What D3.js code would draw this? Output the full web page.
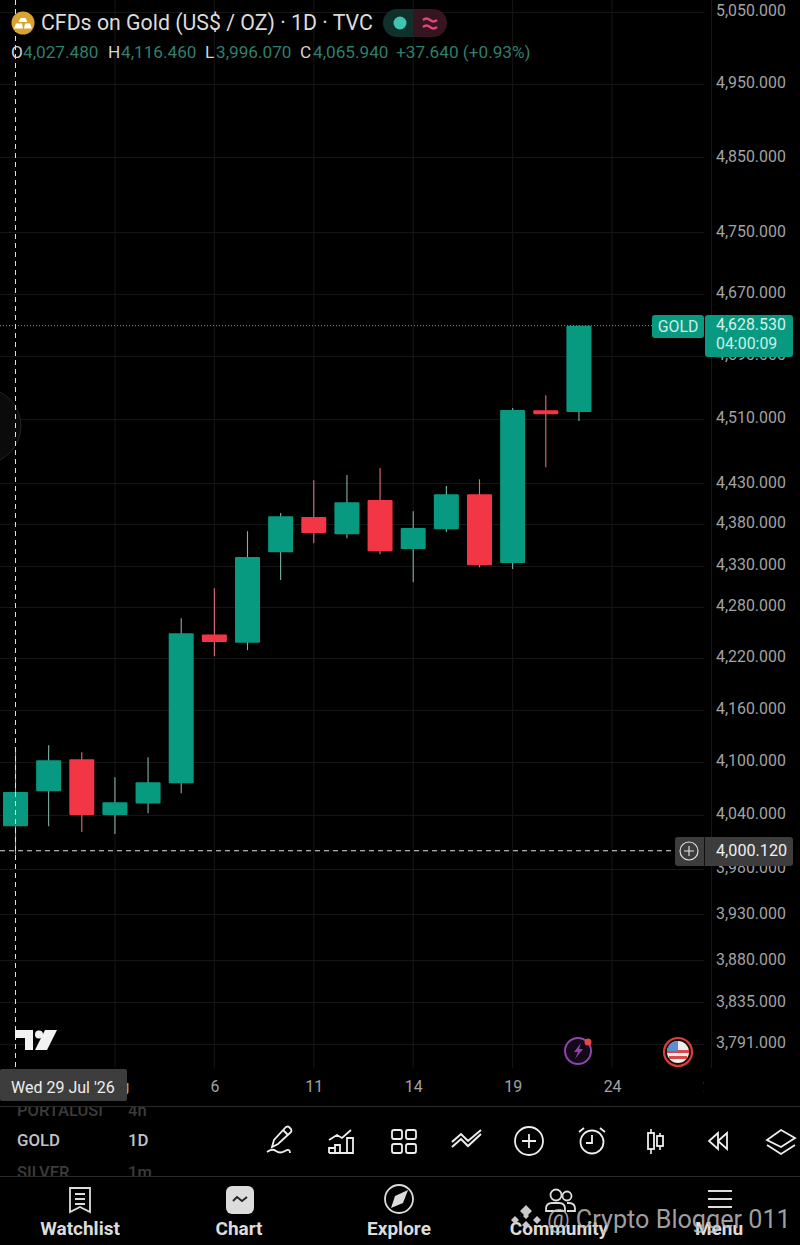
<!DOCTYPE html>
<html>
<head>
<meta charset="utf-8">
<script src="https://cdnjs.cloudflare.com/ajax/libs/d3/7.8.5/d3.min.js"></script>
<style>
html, body { margin: 0; padding: 0; background: #000; }
svg { display: block; font-family: Roboto, sans-serif; }
</style>
</head>
<body>
<svg id="chart" width="800" height="1245"></svg>
<script>
const dates = ["29 Jul","30 Jul","31 Jul","3 Aug","4 Aug","5 Aug","6 Aug","7 Aug","10 Aug","11 Aug","12 Aug","13 Aug","14 Aug","17 Aug","18 Aug","19 Aug","20 Aug","21 Aug","24 Aug","25 Aug","26 Aug","27 Aug"];
const opens  = [4027.48,4066.9,4103,4040,4053,4076,4248,4238,4346.2,4388.7,4368,4409.5,4350,4374,4416.8,4333,4521,4518.7];
const highs  = [4116.46,4119.2,4111,4082.7,4105.5,4267.2,4302.9,4371.6,4393.6,4434,4440.3,4448.9,4396,4426.7,4435,4523.7,4540,4628.53];
const lows   = [3996.07,4027.5,4021,4018.7,4042,4064.6,4222.4,4229.4,4312.6,4357,4363,4343.8,4310,4370.5,4328,4326,4450,4507.4];
const closes = [4065.94,4102.1,4040,4054.4,4077,4249.4,4238.9,4340.2,4389.9,4369.3,4407,4347.4,4375.3,4416.8,4330.5,4521.2,4516,4628.53];
const priceTicks = [5050,4950,4850,4750,4670,4590,4510,4430,4380,4330,4280,4220,4160,4100,4040,3980,3930,3880,3835,3791];
const dateTicks = ["3 Aug","6 Aug","11 Aug","14 Aug","19 Aug","24 Aug","27 Aug"];
const dateTickLabels = ["Aug","6","11","14","19","24","27"];
const lastPrice = 4628.53, crossPrice = 4000.12;

const green = "#089981", red = "#f23645", greenWick = "#7fb3a6", redWick = "#e2707c";
const tickCol = "#a3a3a3", gridCol = "#161616";
const W = 800, H = 1245, plotRight = 704, plotBottom = 1068;

const svg = d3.select("#chart");
svg.append("rect").attr("width", W).attr("height", H).attr("fill", "#000");

const x = d3.scalePoint().domain(dates).range([15.5, 711.5]);
const y = d3.scaleLog().domain([3791, 5050]).range([1044, 12]);

// grid
const grid = svg.append("g");
grid.selectAll(".h").data(priceTicks).join("line")
  .attr("x1", 0).attr("x2", plotRight)
  .attr("y1", d => Math.round(y(d)) + .5).attr("y2", d => Math.round(y(d)) + .5)
  .attr("stroke", gridCol);
grid.selectAll(".v").data(dateTicks).join("line")
  .attr("x1", d => x(d)).attr("x2", d => x(d))
  .attr("y1", 0).attr("y2", plotBottom)
  .attr("stroke", gridCol);

// price axis
const yAxis = d3.axisRight(y).tickValues(priceTicks).tickSize(0).tickPadding(0)
  .tickFormat(d3.format(",.3f"));
const gy = svg.append("g").attr("transform", "translate(716,-1.5)").call(yAxis);
gy.select(".domain").remove();
gy.selectAll("text").attr("fill", tickCol).attr("font-size", 15.9).attr("font-family", "Roboto");

// time axis
const xAxis = d3.axisBottom(x).tickValues(dateTicks).tickSize(0).tickPadding(0)
  .tickFormat((d, i) => dateTickLabels[i]);
const gx = svg.append("g").attr("transform", "translate(0,1081)").call(xAxis);
gx.select(".domain").remove();
gx.selectAll("text").attr("fill", tickCol).attr("font-size", 15.9).attr("font-family", "Roboto");
svg.append("rect").attr("x", 704).attr("y", 1070).attr("width", 96).attr("height", 35).attr("fill", "#000");

// left side handle
svg.append("circle").attr("cx", -17).attr("cy", 426).attr("r", 38).attr("fill", "#0b0b0b").attr("stroke", "#242424");

// candles
const candles = svg.append("g");
const idx = d3.range(opens.length);
const up = i => closes[i] >= opens[i];
candles.selectAll(".wick").data(idx).join("line")
  .attr("x1", i => x(dates[i])).attr("x2", i => x(dates[i]))
  .attr("y1", i => y(highs[i])).attr("y2", i => y(lows[i]))
  .attr("stroke", i => up(i) ? greenWick : redWick).attr("stroke-width", 1.1);
candles.selectAll(".body").data(idx).join("rect")
  .attr("x", i => x(dates[i]) - 12.5).attr("width", 25)
  .attr("y", i => y(Math.max(opens[i], closes[i])))
  .attr("height", i => Math.max(2, Math.abs(y(opens[i]) - y(closes[i]))))
  .attr("rx", 1)
  .attr("fill", i => up(i) ? green : red);

// last price dotted line and label
svg.append("line").attr("x1", 0).attr("x2", 652).attr("y1", y(lastPrice)).attr("y2", y(lastPrice))
  .attr("stroke", "#7d8f8a").attr("stroke-dasharray", "1 2");
svg.append("rect").attr("x", 652).attr("y", 315).attr("width", 52).attr("height", 23).attr("rx", 3).attr("fill", green);
svg.append("text").attr("x", 678).attr("y", 332).attr("text-anchor", "middle").attr("font-size", 15.9).attr("fill", "#c9efe7").text("GOLD");
svg.append("rect").attr("x", 705).attr("y", 315).attr("width", 88).attr("height", 42).attr("rx", 3).attr("fill", green);
svg.append("text").attr("x", 716).attr("y", 330).attr("font-size", 15.9).attr("fill", "#d5f3ed").text(d3.format(",.3f")(lastPrice));
svg.append("text").attr("x", 716).attr("y", 349).attr("font-size", 15.9).attr("fill", "#c9efe7").text("04:00:09");

// crosshair
const cx = x(dates[0]), cy = y(crossPrice);
svg.append("line").attr("x1", cx).attr("x2", cx).attr("y1", 0).attr("y2", 1070)
  .attr("stroke", "#e0e0e0").attr("stroke-dasharray", "5 4");
svg.append("line").attr("x1", 0).attr("x2", 675).attr("y1", cy).attr("y2", cy)
  .attr("stroke", "#e0e0e0").attr("stroke-dasharray", "5 4");
svg.append("rect").attr("x", 675).attr("y", 837).attr("width", 118).attr("height", 29).attr("rx", 3).attr("fill", "#3d3d3d");
svg.append("line").attr("x1", 704.5).attr("x2", 704.5).attr("y1", 837).attr("y2", 866).attr("stroke", "#111");
svg.append("circle").attr("cx", 689).attr("cy", 851).attr("r", 9).attr("fill", "none").attr("stroke", "#e6e6e6").attr("stroke-width", 1.1);
svg.append("path").attr("d", "M684 851h10M689 846v10").attr("stroke", "#e6e6e6").attr("stroke-width", 1.1);
svg.append("text").attr("x", 716).attr("y", 855.5).attr("font-size", 16.2).attr("fill", "#eee").text(d3.format(",.3f")(crossPrice));
svg.append("rect").attr("x", 0).attr("y", 1069).attr("width", 127).attr("height", 32).attr("rx", 2).attr("fill", "#3d3d3d");
svg.append("text").attr("x", 11).attr("y", 1093).attr("font-size", 16).attr("fill", "#eee").text("Wed 29 Jul '26");

// header
svg.append("circle").attr("cx", 23).attr("cy", 23).attr("r", 11.5).attr("fill", "#d9a32e");
svg.append("path").attr("d", "M18.500 22l2-4h5l2 4zM14 28.500l2-5h6l1 5zM24 28.500l1-5h5l2 5z").attr("fill", "#fff");
svg.append("text").attr("x", 41).attr("y", 30).attr("font-size", 21.3).attr("fill", "#dcdcdc").text("CFDs on Gold (US$ / OZ) · 1D · TVC");
svg.append("path").attr("d", "M397 9h16v28h-16a14 14 0 0 1 0-28z").attr("fill", "#10302c");
svg.append("path").attr("d", "M413 9h20a14 14 0 0 1 0 28h-20z").attr("fill", "#361420");
svg.append("circle").attr("cx", 400).attr("cy", 23).attr("r", 6.5).attr("fill", "#3fc4b0");
svg.append("path").attr("d", "M423 20q3.500 -3 7 0t7 0M423 27q3.500 -3 7 0t7 0").attr("fill", "none").attr("stroke", "#e0457b").attr("stroke-width", 2.4);
const ohlc = [["O",11,"4,027.480",23],["H",108,"4,116.460",121],["L",205,"3,996.070",216],["C",300,"4,065.940",313],["",0,"+37.640 (+0.93%)",396]];
ohlc.forEach(r => {
  if (r[0]) svg.append("text").attr("x", r[1]).attr("y", 58).attr("font-size", 17.2).attr("fill", "#d5d5d5").text(r[0]);
  svg.append("text").attr("x", r[3]).attr("y", 58).attr("font-size", 17.2).attr("fill", "#2f7f6f").text(r[2]);
});

// tradingview logo
svg.append("path").attr("d", "M15 1030h18v20h-8v-12h-10z M45 1030h12l-10 20h-12z").attr("fill", "#f2f2f2");
svg.append("circle").attr("cx", 39).attr("cy", 1034.500).attr("r", 4).attr("fill", "#f2f2f2");

// event icons
svg.append("circle").attr("cx", 578).attr("cy", 1051).attr("r", 13).attr("fill", "#120a18").attr("stroke", "#8d44ad").attr("stroke-width", 2);
svg.append("path").attr("d", "M581 1043l-7 9h4l-3 7 8-10h-4z").attr("fill", "#8d44ad");
svg.append("circle").attr("cx", 588).attr("cy", 1042).attr("r", 3.500).attr("fill", "#e84545");
svg.append("circle").attr("cx", 678).attr("cy", 1052).attr("r", 14).attr("fill", "#1a0808").attr("stroke", "#d83c3c").attr("stroke-width", 2.2);
svg.append("circle").attr("cx", 678).attr("cy", 1052).attr("r", 11).attr("fill", "#eee");
svg.append("path").attr("d", "M667 1050h22v3h-22zM669 1056h18v3h-18z").attr("fill", "#d84a4a");
svg.append("path").attr("d", "M678 1041a11 11 0 0 0 -11 10h11z").attr("fill", "#5b8ed0");

// watchlist rows, clipped by the two separators
const list = svg.append("g").attr("font-weight", 500);
list.append("text").attr("x", 17).attr("y", 1116).attr("font-size", 16.5).attr("fill", "#3c3c3c").text("PORTALUSI");
list.append("text").attr("x", 128).attr("y", 1116).attr("font-size", 16.5).attr("fill", "#3c3c3c").text("4h");
list.append("text").attr("x", 17).attr("y", 1146).attr("font-size", 16.8).attr("fill", "#c4c4c4").text("GOLD");
list.append("text").attr("x", 128).attr("y", 1146).attr("font-size", 16.8).attr("fill", "#c4c4c4").text("1D");
list.append("text").attr("x", 17).attr("y", 1178).attr("font-size", 16.5).attr("fill", "#3c3c3c").text("SILVER");
list.append("text").attr("x", 128).attr("y", 1178).attr("font-size", 16.5).attr("fill", "#3c3c3c").text("1m");
svg.append("rect").attr("x", 0).attr("y", 1177).attr("width", W).attr("height", 68).attr("fill", "#000");
svg.append("rect").attr("x", 0).attr("y", 1101).attr("width", 200).attr("height", 6).attr("fill", "#000");
svg.append("line").attr("x1", 0).attr("x2", W).attr("y1", 1176.500).attr("y2", 1176.500).attr("stroke", "#2b2b2b");
svg.append("line").attr("x1", 0).attr("x2", W).attr("y1", 1106.500).attr("y2", 1106.500).attr("stroke", "#2b2b2b");

const ic = svg.append("g").attr("fill", "none").attr("stroke", "#eee").attr("stroke-width", 1.8);
// pencil
ic.append("path").attr("d", "M272 1147l2-7 12-13q2-1 3 0l2 2q1 2 0 3l-13 12zM283 1130l5 5M267 1152q5-4 9-1t9 0 5 2");
// chart with line
ic.append("path").attr("d", "M329 1153h24v-15h-6v15M335 1153v-8h5v8M329 1153v-5h6M329 1140l8-5 5 3 9-8");
// grid
[392,406].forEach(a => [1130,1144].forEach(b => ic.append("rect").attr("x", a).attr("y", b).attr("width", 10).attr("height", 9).attr("rx", 2)));
// pattern
ic.append("path").attr("d", "M452 1147l9-8 7 7 13-12M452 1142l9-8 7 7 13-11").attr("stroke-width", 2);
// plus circle
ic.append("circle").attr("cx", 529).attr("cy", 1141).attr("r", 14);
ic.append("path").attr("d", "M522 1141h14M529 1134v14");
// alarm
ic.append("circle").attr("cx", 592).attr("cy", 1142).attr("r", 11.500);
ic.append("path").attr("d", "M592 1135v8h-6M579 1132l5-4M605 1132l-5-4");
// candles
ic.append("path").attr("d", "M651 1129v25M660 1133v17").attr("stroke-width", 1.6);
ic.append("rect").attr("x", 648).attr("y", 1133).attr("width", 6).attr("height", 16).attr("fill", "#000");
ic.append("rect").attr("x", 657).attr("y", 1136).attr("width", 6).attr("height", 10).attr("fill", "#000");
// replay
ic.append("path").attr("d", "M718 1133l-9 8 9 8zM727 1133l-9 8 9 8z");
// layers
ic.append("path").attr("d", "M767 1140l14-10 14 8-14 9zM767 1145l14 9 14-9");

const nav = [["Watchlist",80],["Chart",239],["Explore",399],["Community",559],["Menu",719]];
nav.forEach(n => svg.append("text").attr("x", n[1]).attr("y", 1235).attr("text-anchor", "middle")
  .attr("font-size", 19).attr("font-weight", 700).attr("fill", "#dcdcdc").text(n[0]));
const nv = svg.append("g").attr("fill", "none").attr("stroke", "#dcdcdc").attr("stroke-width", 1.8);
nv.append("path").attr("d", "M70 1188h20v24l-10-5-10 5zM75 1194h10M75 1199h10M75 1204h10");
svg.append("rect").attr("x", 226).attr("y", 1186).attr("width", 28).attr("height", 28).attr("rx", 6).attr("fill", "#dcdcdc");
svg.append("path").attr("d", "M233 1201l4-4 5 4 5-4").attr("fill", "none").attr("stroke", "#222").attr("stroke-width", 1.8);
nv.append("circle").attr("cx", 399).attr("cy", 1199).attr("r", 14);
svg.append("path").attr("d", "M408 1190l-13 6-4 12 12-5z").attr("fill", "#dcdcdc");
nv.append("circle").attr("cx", 556).attr("cy", 1195).attr("r", 5.500);
nv.append("circle").attr("cx", 567).attr("cy", 1196).attr("r", 4.500);
nv.append("path").attr("d", "M546 1211v-2q0-6 6-6h7q6 0 6 6v2zM567 1203h2q6 0 6 6v2h-8");
nv.append("path").attr("d", "M708 1191h24M708 1199h24M708 1207h24");

// watermark
svg.append("path").attr("d", "M526 1205l6 6-6 6-6-6zM526 1221l4 4-4 4-4-4zM515 1216l4 4-4 4-4-4zM537 1216l4 4-4 4-4-4zM526 1213l3 3-3 3-3-3z").attr("fill", "#c9c9c9");
svg.append("text").attr("x", 547).attr("y", 1228).attr("font-size", 25.2).attr("fill", "#bdbdbd").attr("fill-opacity", .85).text("@ Crypto Blogger 011");
</script>
</body>
</html>
